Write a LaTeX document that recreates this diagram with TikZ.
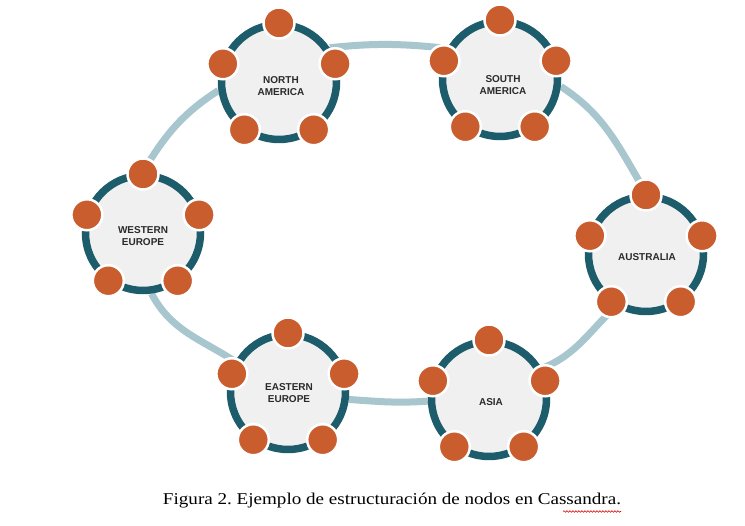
\documentclass[tikz,border=0pt]{standalone}
\usepackage{fontspec}
\setmainfont{Liberation Serif}
\newfontfamily\lblfont{Liberation Sans}
\usetikzlibrary{backgrounds,decorations.pathmorphing}
\definecolor{ringteal}{HTML}{1C5C6B}
\definecolor{nodeorange}{HTML}{CA5D2E}
\definecolor{linkblue}{HTML}{A8C6CD}
\definecolor{diskgrey}{HTML}{F0F0F0}
\definecolor{lbl}{HTML}{2A2A2A}
\frenchspacing
\begin{document}
\begin{tikzpicture}[x=1pt,y=1pt,
  cluster/.style={circle, minimum size=115pt, inner sep=0pt, fill=diskgrey, draw=ringteal, line width=7.5pt},
  member/.style={circle, minimum size=31pt, inner sep=0pt, fill=nodeorange, draw=white, line width=2.5pt},
  region/.style={font=\lblfont\bfseries\fontsize{10}{12.5}\selectfont, text=lbl, align=center, inner sep=0pt},
  link/.style={draw=linkblue, line width=7pt},
  caption/.style={font=\fontsize{16.5}{19}\selectfont, text=black, inner sep=0pt, anchor=base},
  spell/.style={draw=red!85!black, line width=0.6pt, decorate, decoration={snake, amplitude=0.8pt, segment length=3pt}}
]
\useasboundingbox (0,0) rectangle (745,526);

% clusters
\node[cluster] (na)   at (279,444) {};
\node[cluster] (sa)   at (500,447) {};
\node[cluster] (we)   at (143,293) {};
\node[cluster] (au)   at (646,272) {};
\node[cluster] (ee)   at (288,134) {};
\node[cluster] (asia) at (489,127) {};

% member nodes
\foreach \c in {na,sa,we,au,ee,asia}{
  \foreach \a [count=\i] in {90,18,-54,-126,162}{
    \node[member] (\c\i) at ([shift={(\a:59)}]\c.center) {};
  }
}

% labels
\node[region] (naL) at ([shift={(2,-4)}]na.center) {NORTH\\AMERICA};
\node[region] (saL) at ([shift={(3,-6)}]sa.center) {SOUTH\\AMERICA};
\node[region] (weL) at ([shift={(0,-3)}]we.center) {WESTERN\\EUROPE};
\node[region] (auL) at ([shift={(1,-3)}]au.center) {AUSTRALIA};
\node[region] (eeL) at ([shift={(1,-1)}]ee.center) {EASTERN\\EUROPE};
\node[region] (asL) at ([shift={(2,-3)}]asia.center) {ASIA};

% caption
\node[caption] (cap) at (392,21) {\resizebox{458pt}{\height}{Figura 2. Ejemplo de estructuración de nodos en Cassandra.}};
\coordinate (sq1) at (563,14.5);
\coordinate (sq2) at (621,14.5);
\draw[spell] (sq1) -- (sq2);

% connectors behind
\begin{pgfonlayer}{background}
  \fill[white] (0,0) rectangle (745,526);
  \draw[link] (na.34) to[out=6,in=174] (sa.150);
  \draw[link] (sa.-7) to[out=-33,in=121] (au.90);
  \draw[link] (au.-120) to[out=223,in=22] (asia.30);
  \draw[link] (asia.182) to[out=184,in=-4] (ee.-7);
  \draw[link] (ee.150) to[out=147,in=-62] (we.-82);
  \draw[link] (we.90) to[out=59,in=213] (na.188);
\end{pgfonlayer}
\end{tikzpicture}
\end{document}
